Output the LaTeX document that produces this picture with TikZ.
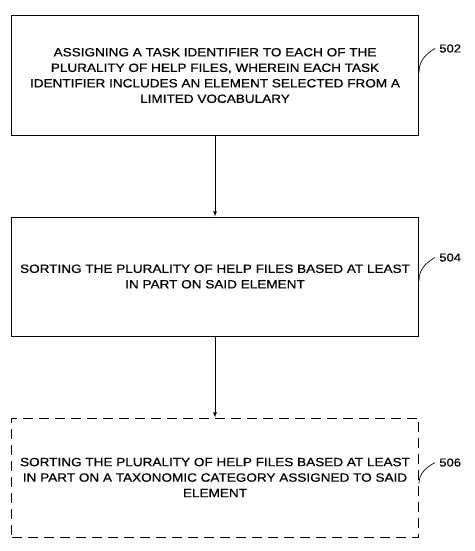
\documentclass[tikz,border=0pt]{standalone}
\usepackage{fontspec}
\setmainfont[FakeStretch=1.13,FakeBold=0.6]{Liberation Sans}
\usetikzlibrary{positioning}
\begin{document}
\begin{tikzpicture}[x=1pt,y=-1pt,
    stepbox/.style={draw,line width=1pt,minimum width=407pt,minimum height=119pt,
        align=center,font=\fontsize{12}{15.5}\selectfont,inner sep=0pt},
    optbox/.style={stepbox,dash pattern=on 10pt off 6pt},
    flow/.style={->,>=latex,line width=0.8pt},
    ref/.style={line width=0.7pt},
    reflabel/.style={font=\fontsize{11.5}{13}\selectfont,anchor=west,inner sep=4pt}]
    \useasboundingbox (0,0) rectangle (474,551);
    \node[stepbox] (assign) at (215,75.5)
        {ASSIGNING A TASK IDENTIFIER TO EACH OF THE\\
         PLURALITY OF HELP FILES, WHEREIN EACH TASK\\
         IDENTIFIER INCLUDES AN ELEMENT SELECTED FROM A\\
         LIMITED VOCABULARY};
    \node[stepbox,below=81pt of assign] (sortelem)
        {SORTING THE PLURALITY OF HELP FILES BASED AT LEAST\\
         IN PART ON SAID ELEMENT};
    \node[optbox,below=81pt of sortelem] (sorttax)
        {SORTING THE PLURALITY OF HELP FILES BASED AT LEAST\\
         IN PART ON A TAXONOMIC CATEGORY ASSIGNED TO SAID\\
         ELEMENT};
    \draw[flow] (assign) -- (sortelem);
    \draw[flow] (sortelem) -- (sorttax);
    % reference numerals
    \draw[ref] ([yshift=3pt]assign.east) to[out=90,in=210] ++(16,-24)
        node[reflabel] {502};
    \draw[ref] ([yshift=-4pt]sortelem.east) to[out=90,in=210] ++(16,-23)
        node[reflabel] {504};
    \draw[ref] ([yshift=-6pt]sorttax.east) to[out=90,in=210] ++(16,-21)
        node[reflabel] {506};
\end{tikzpicture}
\end{document}
